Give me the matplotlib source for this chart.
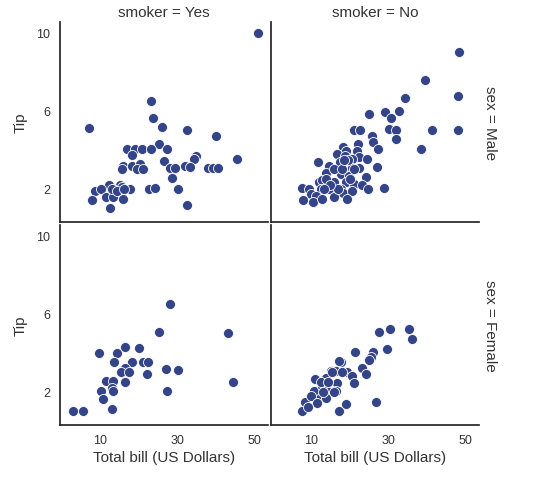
import matplotlib
matplotlib.use("Agg")
import matplotlib.pyplot as plt

plt.rcParams['font.family'] = ['Liberation Sans', 'DejaVu Sans']

DOT = '#334488'
INK = '#333333'

col_names = ['Yes', 'No']
row_names = ['Male', 'Female']
xticks = [10, 30, 50]
yticks = [2, 6, 10]

# smoker = Yes, sex = Male
male_yes_bill = [50.7, 23.1, 23.6, 7.3, 26.1, 32.6, 40.0, 25.2, 16.9, 19.0, 20.8, 23.1,
                 27.4, 18.2, 34.8, 34.3, 45.4, 26.6, 16.0, 18.2, 20.3, 15.7, 19.6, 21.2,
                 28.1, 29.4, 32.0, 33.2, 38.0, 39.1, 40.5, 28.5, 12.4, 15.2, 8.7, 10.4,
                 13.4, 15.6, 17.7, 22.6, 24.2, 30.1, 11.7, 13.4, 15.9, 8.0, 12.6, 32.6,
                 13.0, 14.5, 16.3]
male_yes_tip = [10.0, 6.5, 5.64, 5.15, 5.16, 5.03, 4.73, 4.31, 4.05, 4.05, 4.05, 4.05,
                4.05, 3.74, 3.71, 3.54, 3.55, 3.42, 3.2, 3.2, 3.28, 3.03, 3.03, 3.03,
                3.06, 3.06, 3.2, 3.11, 3.06, 3.06, 3.06, 2.55, 2.22, 2.22, 1.91, 2.0,
                2.0, 2.09, 2.0, 2.0, 2.05, 2.0, 1.57, 1.57, 1.49, 1.44, 1.0, 1.18,
                2.0, 1.9, 2.0]

# smoker = No, sex = Male
male_no_bill = [48.3, 39.4, 34.4, 48.1, 25.0, 29.1, 30.6, 32.7, 21.1, 22.6, 30.1, 31.9,
                41.3, 48.1, 25.7, 26.0, 22.2, 27.4, 31.9, 38.3, 11.9, 18.3, 19.0, 16.8,
                18.8, 21.8, 22.4, 24.5, 20.5, 14.6, 17.4, 20.7, 22.4, 27.1, 13.8, 17.7,
                19.8, 24.3, 12.1, 12.9, 15.9, 19.0, 7.8, 9.5, 12.5, 14.6, 17.7, 21.1,
                23.2, 24.8, 28.8, 9.9, 11.2, 18.3, 20.7, 7.9, 10.5, 12.9, 15.9, 19.4,
                16.0, 18.0, 20.0, 17.0, 14.0, 19.5, 15.0, 21.0, 18.5, 13.5]
male_no_tip = [9.0, 7.58, 6.67, 6.75, 5.85, 5.93, 5.63, 6.02, 5.03, 5.03, 5.08, 5.03,
               5.03, 5.03, 4.73, 4.39, 4.31, 4.05, 4.56, 4.05, 3.4, 4.14, 3.96, 3.79,
               3.71, 3.96, 3.62, 3.54, 3.54, 3.19, 3.37, 3.06, 3.06, 3.14, 2.82, 2.77,
               2.68, 2.6, 2.34, 2.46, 2.37, 2.34, 2.04, 2.0, 2.0, 2.0, 2.0, 2.26,
               2.2, 2.0, 2.05, 1.74, 1.66, 1.79, 1.91, 1.44, 1.32, 1.49, 1.57, 1.49,
               3.0, 3.0, 2.5, 2.0, 2.5, 3.5, 2.2, 3.0, 3.5, 2.0]

# smoker = Yes, sex = Female
female_yes_bill = [28.2, 25.2, 43.1, 9.8, 14.3, 16.6, 20.0, 13.7, 18.3, 21.2, 22.5,
                   16.5, 15.4, 17.6, 22.2, 27.0, 30.2, 11.5, 13.4, 16.6, 44.3, 10.2,
                   13.0, 13.4, 10.9, 27.4, 13.0, 3.07, 5.75]
female_yes_tip = [6.5, 5.08, 5.0, 4.02, 4.02, 4.31, 4.24, 3.54, 3.54, 3.54, 3.54,
                  3.25, 3.03, 3.03, 2.91, 3.2, 3.11, 2.56, 2.56, 2.53, 2.5, 2.05,
                  2.22, 2.05, 1.63, 2.05, 1.14, 1.0, 1.0]

# smoker = No, sex = Female
female_no_bill = [27.5, 30.3, 35.3, 36.0, 29.7, 21.4, 26.0, 25.4, 25.0, 17.7, 17.2,
                  15.1, 16.4, 19.4, 20.7, 21.1, 23.1, 24.3, 11.0, 13.8, 16.8, 10.8,
                  14.2, 16.5, 12.9, 8.6, 12.1, 13.8, 9.9, 11.6, 7.6, 9.3, 17.2, 19.0,
                  26.7, 15.5, 18.0, 13.0, 12.5, 14.5, 16.0]
female_no_tip = [5.08, 5.22, 5.22, 4.7, 4.22, 4.07, 4.05, 3.79, 3.63, 3.54, 3.6,
                 3.08, 3.08, 3.04, 2.82, 2.48, 3.25, 2.94, 2.65, 2.73, 2.48, 2.05,
                 2.05, 2.05, 2.31, 1.49, 1.63, 1.71, 1.79, 1.45, 1.0, 1.23, 1.0, 1.37,
                 1.49, 3.0, 3.0, 2.0, 2.5, 2.5, 2.0]

panels = {
    ('Male', 'Yes'): (male_yes_bill, male_yes_tip),
    ('Male', 'No'): (male_no_bill, male_no_tip),
    ('Female', 'Yes'): (female_yes_bill, female_yes_tip),
    ('Female', 'No'): (female_no_bill, female_no_tip),
}

W, H = 545, 481
fig = plt.figure(figsize=(W / 100, H / 100), dpi=100)

# axes boxes in pixels: left, top, width, height
lefts = [60, 271]
tops = [23, 226]
aw, ah = 208, 199.5

for r, sex in enumerate(row_names):
    for c, smk in enumerate(col_names):
        ax = fig.add_axes([lefts[c] / W, 1 - (tops[r] + ah) / H, aw / W, ah / H])
        bill, tip = panels[(sex, smk)]
        ax.scatter(bill, tip, s=52, color=DOT, edgecolor='white', linewidth=0.6, zorder=3)
        ax.set_xlim(-0.3, 53.4)
        ax.set_ylim(0.33, 10.56)
        ax.set_xticks(xticks)
        ax.set_yticks(yticks)
        ax.tick_params(length=0, labelsize=9, labelcolor=INK, pad=7)
        for side in ['top', 'right']:
            ax.spines[side].set_visible(False)
        for side in ['left', 'bottom']:
            ax.spines[side].set_color('#262626')
            ax.spines[side].set_linewidth(1.25)
        if r == 0:
            ax.set_title(f'smoker = {smk}', fontsize=11, color=INK, pad=4)
            ax.set_xticklabels([])
        else:
            ax.set_xlabel('Total bill (US Dollars)', fontsize=11, color=INK, labelpad=3)
        if c == 0:
            ax.set_ylabel('Tip', fontsize=11, color=INK, labelpad=6)
        else:
            ax.set_yticklabels([])
            ax.annotate(f'sex = {sex}', xy=(1.02, 0.5), xycoords='axes fraction',
                        rotation=270, ha='left', va='center', fontsize=11, color=INK)

fig.savefig('out.png', dpi=100, facecolor='white')
